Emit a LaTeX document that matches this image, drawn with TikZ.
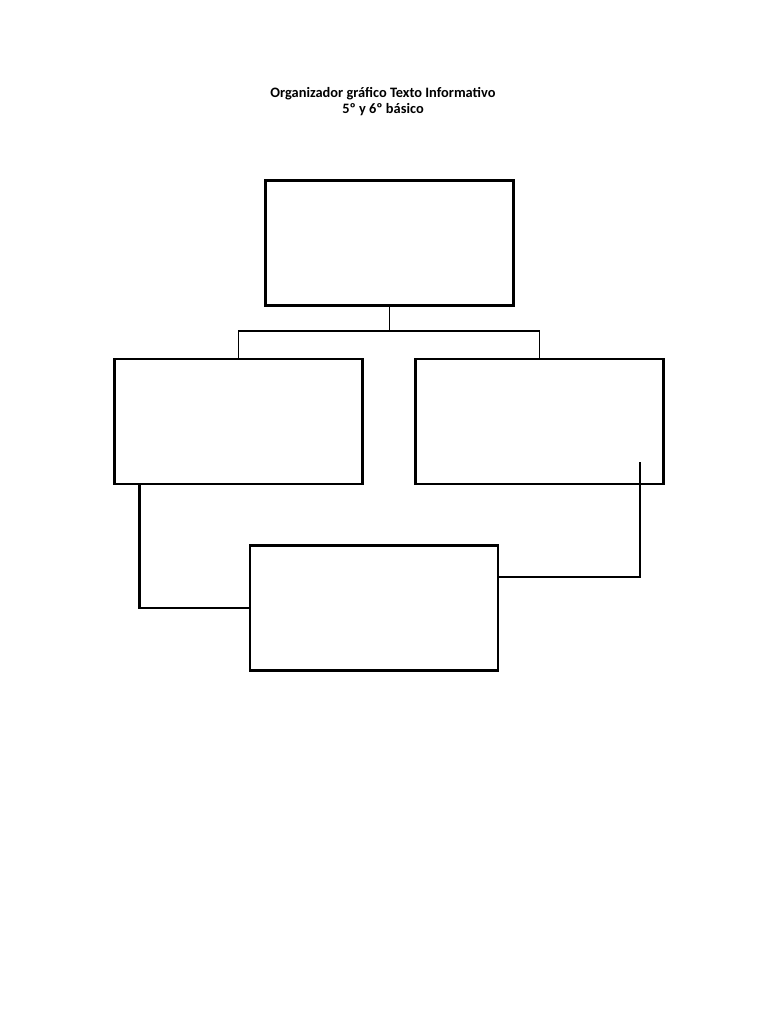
\documentclass[tikz,border=0pt]{standalone}
\usepackage{fontspec}
\setmainfont{Carlito}

\begin{document}
\begin{tikzpicture}[x=0.0281cm,y=-0.0281cm,line cap=rect,box/.style={draw,line width=2pt,minimum width=6.97cm,minimum height=3.51cm,inner sep=0pt,outer sep=0pt},title/.style={font=\bfseries\fontsize{11.5}{13}\selectfont,inner sep=0pt}]
                \useasboundingbox (0,0) rectangle (768,1024);
                \node[title] (t1) at (383,94) {Organizador gráfico Texto Informativo};
                \node[title] (t2) at (383,110) {5º y 6º básico};

                \node[box] (top) at (389.5,243) {};
                \node[box] (left) at (238.5,421.5) {};
                \node[box] (right) at (539.5,421.5) {};
                \node[box] (bottom) at (374,608) {};

                \coordinate (split) at (389.5,331);
                \coordinate (rstart) at (640,463);
                \coordinate (rturn) at (640,577);

                \draw[line width=1.4pt] (top.south) -- (split);
                \draw[line width=1.4pt] (left.north) |- (split) -| (right.north);
                \draw[line width=2pt] (left.south west) ++(25,0) |- (bottom.west);
                \draw[line width=1.3pt] (rstart) -- (rturn) -- (bottom.east |- rturn);
            \end{tikzpicture}
\end{document}
